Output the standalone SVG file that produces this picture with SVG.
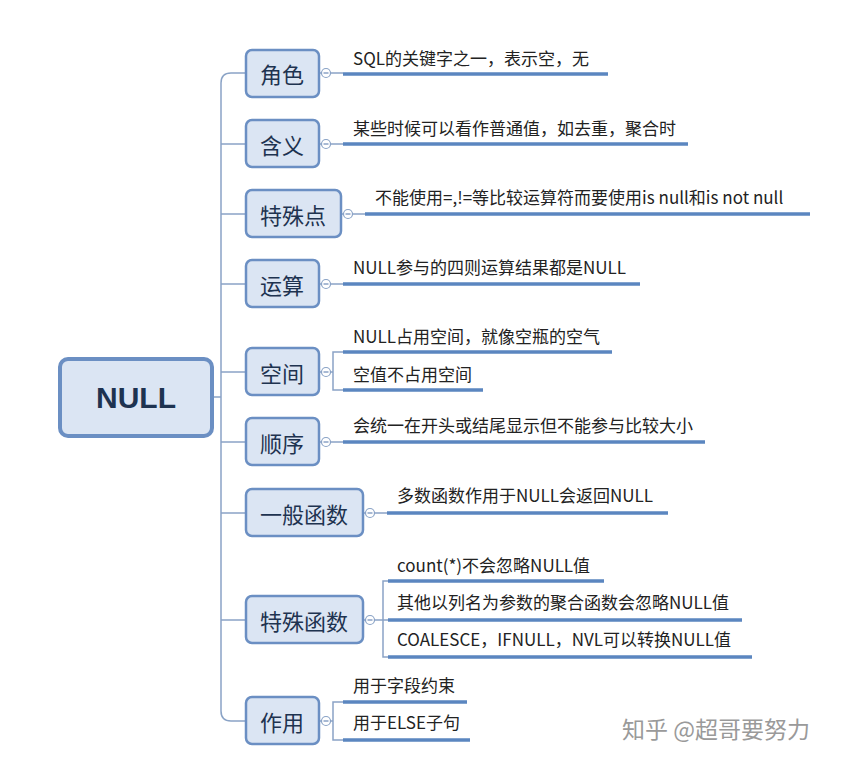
<svg xmlns="http://www.w3.org/2000/svg" width="852" height="764" viewBox="0 0 852 764">
<style>
.n rect{fill:#dbe5f3;stroke:#6b8fc3;stroke-width:2.5}
.n text{font-family:"Noto Sans CJK SC",sans-serif;font-size:22px;fill:#1e3350;text-anchor:middle;dominant-baseline:central}
.c path{fill:none;stroke:#8aa3c6;stroke-width:1.5}
.c .u path{stroke:#5b86c0;stroke-width:3.5}
.k{fill:#fff;stroke:#8aa3c6;stroke-width:1.2}
.t{font-family:"Noto Sans CJK SC",sans-serif;font-size:17px;fill:#222}
</style>
<rect width="852" height="764" fill="#fff"/>
<g class="c">
<path d="M212 397H221"/>
<path d="M246 73H231Q221 73 221 83V711Q221 721 231 721H246"/>
<path d="M221 144H246M221 214H246M221 284H246M221 372H246M221 442H246M221 513H246M221 620H246"/>
<path d="M319 73H343M319 144H343M341 214H365M319 284H343M319 442H343M363 513H387"/>
<path d="M319 372H333M343 352H333V390H343"/>
<path d="M363 620H383M388 581H383V657H388M383 620H388"/>
<path d="M319 721H333M343 702H333V740H343"/>
<g class="u">
<path d="M343 74H608M343 144H688M365 214H810M343 284H640M343 352H612M343 390H483M343 442H705M387 513H668M388 581H604M388 620H742M388 657H752M343 702H467M343 740H470"/>
</g>
<circle class="k" cx="326" cy="73" r="4.5"/><circle class="k" cx="326" cy="144" r="4.5"/><circle class="k" cx="348" cy="214" r="4.5"/><circle class="k" cx="326" cy="284" r="4.5"/><circle class="k" cx="326" cy="372" r="4.5"/><circle class="k" cx="326" cy="442" r="4.5"/><circle class="k" cx="370" cy="513" r="4.5"/><circle class="k" cx="370" cy="620" r="4.5"/><circle class="k" cx="326" cy="721" r="4.5"/>
<path d="M323.5 73H328.5M323.5 144H328.5M345.5 214H350.5M323.5 284H328.5M323.5 372H328.5M323.5 442H328.5M367.5 513H372.5M367.5 620H372.5M323.5 721H328.5"/>
</g>
<g id="root" class="n"><rect x="60" y="359" width="152" height="77" rx="8" style="stroke-width:4"/><text x="136" y="397" style="font-family:'Liberation Sans',sans-serif;font-size:30px;font-weight:bold">NULL</text></g>
<g id="n1" class="n"><rect x="246" y="50" width="73" height="47" rx="6"/><text x="282" y="73">角色</text></g>
<g id="n2" class="n"><rect x="246" y="120" width="73" height="47" rx="6"/><text x="282" y="144">含义</text></g>
<g id="n3" class="n"><rect x="246" y="190" width="95" height="47" rx="6"/><text x="293" y="214">特殊点</text></g>
<g id="n4" class="n"><rect x="246" y="260" width="73" height="47" rx="6"/><text x="282" y="284">运算</text></g>
<g id="n5" class="n"><rect x="246" y="348" width="73" height="47" rx="6"/><text x="282" y="372">空间</text></g>
<g id="n6" class="n"><rect x="246" y="418" width="73" height="47" rx="6"/><text x="282" y="442">顺序</text></g>
<g id="n7" class="n"><rect x="246" y="489" width="117" height="47" rx="6"/><text x="304" y="513">一般函数</text></g>
<g id="n8" class="n"><rect x="246" y="596" width="117" height="47" rx="6"/><text x="304" y="620">特殊函数</text></g>
<g id="n9" class="n"><rect x="246" y="697" width="73" height="47" rx="6"/><text x="282" y="721">作用</text></g>
<g id="leaves">
<text class="t" x="353" y="65">SQL的关键字之一，表示空，无</text>
<text class="t" x="353" y="135">某些时候可以看作普通值，如去重，聚合时</text>
<text class="t" x="375" y="204">不能使用=,!=等比较运算符而要使用is null和is not  null</text>
<text class="t" x="353" y="274">NULL参与的四则运算结果都是NULL</text>
<text class="t" x="353" y="343">NULL占用空间，就像空瓶的空气</text>
<text class="t" x="353" y="381">空值不占用空间</text>
<text class="t" x="353" y="432">会统一在开头或结尾显示但不能参与比较大小</text>
<text class="t" x="397" y="502">多数函数作用于NULL会返回NULL</text>
<text class="t" x="397" y="572">count(*)不会忽略NULL值</text>
<text class="t" x="397" y="609">其他以列名为参数的聚合函数会忽略NULL值</text>
<text class="t" x="397" y="646">COALESCE，IFNULL，NVL可以转换NULL值</text>
<text class="t" x="353" y="692">用于字段约束</text>
<text class="t" x="353" y="729">用于ELSE子句</text>
</g>
<text x="622" y="738" style="font-family:'Noto Sans CJK SC',sans-serif;font-size:23px;fill:#9a9a9a">知乎 @超哥要努力</text>
</svg>
